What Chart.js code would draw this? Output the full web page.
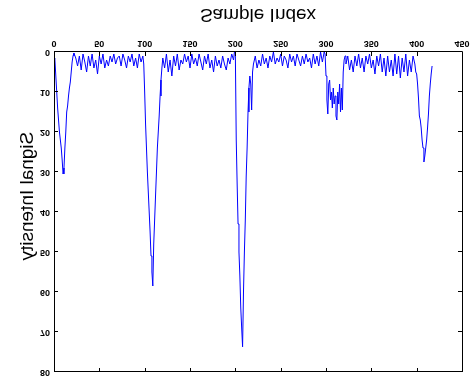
<!DOCTYPE html>
<html>
<head>
<meta charset="utf-8">
<script src="https://cdn.jsdelivr.net/npm/chart.js@4"></script>
<style>
  html, body { margin: 0; padding: 0; background: #fff; }
  #wrap { width: 474px; height: 382px; }
  /* the reference picture is the plot mirrored top to bottom */
  #chart { transform: scaleY(-1); }
</style>
</head>
<body>
<div id="wrap"><canvas id="chart" width="474" height="382"></canvas></div>
<script>
const sampleIndex = [
  0, 1, 2, 3, 4, 5, 6, 7, 8, 9, 10, 11, 12, 13, 14, 15, 16, 17, 18, 19, 20, 21, 22,
  24, 26, 28, 30, 32, 34, 36, 38, 40, 42, 44, 46, 48, 50, 52, 54, 56, 58, 60,
  62, 64, 66, 68, 70, 72, 74, 76, 78, 80, 82, 84, 86, 88, 90, 92, 94, 96, 98,
  99, 100, 101, 102, 103, 104, 105, 106, 107, 108, 109, 110, 111, 112, 113, 114, 115, 116, 117, 118, 119, 120,
  122, 124, 126, 128, 130, 132, 134, 136, 138, 140, 142, 144, 146, 148, 150, 152, 154, 156, 158, 160,
  162, 164, 166, 168, 170, 172, 174, 176, 178, 180, 182, 184, 186, 188, 190, 192, 194, 196, 198, 199,
  200, 201, 202, 203, 204, 205, 206, 207, 208, 209, 210, 211, 212, 213, 214, 215, 216, 217, 218, 219, 220,
  222, 224, 226, 228, 230, 232, 234, 236, 238, 240, 242, 244, 246, 248, 250, 252, 254, 256, 258, 260,
  262, 264, 266, 268, 270, 272, 274, 276, 278, 280, 282, 284, 286, 288, 290, 292, 294, 296, 298,
  299, 300, 301, 302, 303, 304, 305, 306, 307, 308, 309, 310, 311, 312, 313, 314, 315, 316, 317, 318, 319, 320, 321,
  322, 324, 326, 328, 330, 332, 334, 336, 338, 340, 342, 344, 346, 348, 350, 352, 354, 356, 358, 360,
  362, 364, 366, 368, 370, 372, 374, 376, 378, 380, 382, 384, 386, 388, 390, 392, 394, 396, 398,
  399, 400, 401, 402, 403, 404, 405, 406, 407, 408, 409, 410, 411, 412, 413, 414, 415, 416, 417
];
const signalIntensity = [
  1.5, 2, 6, 10, 14, 17, 20, 22, 24, 27, 30.5, 29, 24, 20, 15, 13.5, 11, 9, 7.5, 5, 2.5, 1, 0.3,
  1.5, 3.5, 1, 4.5, 0.5, 2.5, 5, 1, 3.5, 0.5, 4, 2, 5.5, 1, 3, 0.5, 4, 2, 3.5,
  1, 2.5, 0.5, 3, 1.5, 1, 3.5, 0.5, 2, 4, 1, 2.5, 0.5, 3.5, 1.5, 4, 0.5, 2.5, 1,
  3, 10, 18, 24, 30, 35, 40, 45, 51, 55, 58.5, 48, 42, 36, 30, 24, 20, 16, 11, 7, 4, 1.5,
  4, 0.5, 5, 2, 6, 1, 3.5, 0.5, 4.5, 2, 3, 0.5, 2.5, 1, 4, 0.5, 3, 1.5, 3.5, 0.5,
  2.5, 4.5, 1, 3, 0.5, 4, 2, 5, 1, 3.5, 2, 4, 1, 3, 4.5, 1.5, 3, 0.5, 2, 0,
  0, 22, 33, 43, 50, 56, 64, 69, 73.7, 60, 50, 42, 31, 24, 15, 9, 6, 8, 14.5, 5, 3,
  1, 4, 2, 3.5, 0.5, 3, 1.5, 4, 1, 2.5, 0, 3, 1.5, 2.5, 0.5, 3.5, 1, 2, 4, 0.5,
  2.5, 1, 3.5, 0.5, 2, 3.5, 1, 3, 0.5, 2.5, 1.5, 4, 0.5, 3, 1, 3.5, 0, 2.5, 0,
  0.5, 6, 12, 15.5, 8, 7, 12, 10, 14, 9, 13, 11, 16, 17, 10, 13, 8, 15, 9, 14.5, 5, 2, 1,
  3, 1, 4.5, 2, 5, 1, 3.5, 0.5, 4, 1.5, 5, 1, 3, 0.5, 4, 2, 5.5, 1, 3.5, 0.5,
  5, 1.5, 6, 1, 5, 2, 6, 0.5, 5.5, 1, 6.5, 1.5, 5, 0.5, 6, 2, 5, 1, 3,
  5, 5.5, 8, 11.5, 16, 17, 19, 22, 24, 27.5, 26, 24, 22, 19, 15.5, 11, 8, 5.5, 3.5
];
const xTicks = [0, 50, 100, 150, 200, 250, 300, 350, 400, 450];
const yTicks = [0, 10, 20, 30, 40, 50, 60, 70, 80];

const tickFont = { family: "'Liberation Sans', Arial, sans-serif", size: 9, weight: "bold" };
const titleFont = { family: "'Liberation Sans', Arial, sans-serif", size: 19 };

// MATLAB style box with inward tick marks on all four sides
const boxTicks = {
  id: "boxTicks",
  afterDraw(chart) {
    const { ctx, chartArea: a, scales: { x, y } } = chart;
    const len = 4;
    ctx.save();
    ctx.strokeStyle = "#000";
    ctx.lineWidth = 1;
    ctx.beginPath();
    ctx.rect(Math.round(a.left) + 0.5, Math.round(a.top) + 0.5,
      Math.round(a.right - a.left), Math.round(a.bottom - a.top));
    x.ticks.forEach((t) => {
      const px = Math.round(x.getPixelForValue(t.value)) + 0.5;
      ctx.moveTo(px, a.bottom);
      ctx.lineTo(px, a.bottom - len);
      ctx.moveTo(px, a.top);
      ctx.lineTo(px, a.top + len);
    });
    y.ticks.forEach((t) => {
      const py = Math.round(y.getPixelForValue(t.value)) + 0.5;
      ctx.moveTo(a.left, py);
      ctx.lineTo(a.left + len, py);
      ctx.moveTo(a.right, py);
      ctx.lineTo(a.right - len, py);
    });
    ctx.stroke();
    ctx.restore();
  },
};

new Chart(document.getElementById("chart"), {
  type: "line",
  data: {
    datasets: [
      {
        label: "Signal Intensity",
        data: sampleIndex.map((s, i) => ({ x: s, y: signalIntensity[i] })),
        borderColor: "#0000ff",
        borderWidth: 1,
        pointRadius: 0,
        fill: false,
        tension: 0,
      },
    ],
  },
  options: {
    responsive: false,
    animation: false,
    layout: { padding: { top: 10, right: 12, left: 0, bottom: 0 } },
    plugins: {
      legend: { display: false },
      tooltip: { enabled: false },
    },
    scales: {
      x: {
        type: "linear",
        min: 0,
        max: 450,
        afterBuildTicks: (scale) => {
          scale.ticks = xTicks.map((v) => ({ value: v }));
        },
        afterFit: (scale) => {
          scale.height = 52;
        },
        grid: { display: false, drawTicks: false },
        border: { display: false },
        ticks: { font: tickFont, color: "#000", padding: 3, maxRotation: 0 },
        title: {
          display: true,
          text: "Sample Index",
          font: titleFont,
          color: "#000",
          padding: { top: 4, bottom: 3 },
        },
      },
      y: {
        min: 0,
        max: 80,
        afterBuildTicks: (scale) => {
          scale.ticks = yTicks.map((v) => ({ value: v }));
        },
        afterFit: (scale) => {
          scale.width = 54;
        },
        grid: { display: false, drawTicks: false },
        border: { display: false },
        ticks: { font: tickFont, color: "#000", padding: 4 },
        title: {
          display: true,
          // trailing spaces push the label toward the low end of the axis, as in the picture
          text: "Signal Intensity      ",
          font: titleFont,
          color: "#000",
          padding: { top: 16, bottom: 4 },
        },
      },
    },
  },
  plugins: [boxTicks],
});
</script>
</body>
</html>
